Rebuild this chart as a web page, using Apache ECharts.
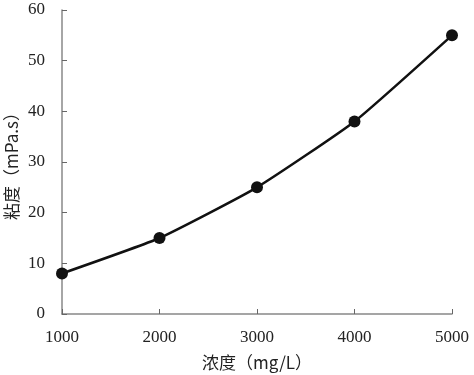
<!DOCTYPE html>
<html>
<head>
<meta charset="utf-8">
<script src="https://cdn.jsdelivr.net/npm/echarts@6/dist/echarts.min.js"></script>
<style>
  html, body { margin: 0; padding: 0; background: #fff; }
  #chart { width: 474px; height: 375px; }
</style>
</head>
<body>
<div id="chart"></div>
<script>
// 浓度 (mg/L) 与 粘度 (mPa.s)
var concentration = [1000, 2000, 3000, 4000, 5000];
var viscosity = [8, 15, 25, 38, 55];

var numFont = "Liberation Serif";
var cjkFont = "Noto Sans CJK SC";

var chart = echarts.init(document.getElementById("chart"));
chart.setOption({
  animation: false,
  grid: { left: 62, right: 22, top: 10, bottom: 61, outerBoundsMode: "none", containLabel: false },
  xAxis: {
    type: "value",
    min: 1000,
    max: 5000,
    interval: 1000,
    name: "浓度（mg/L）",
    nameLocation: "middle",
    nameGap: 40,
    nameMoveOverlap: false,
    nameTextStyle: { color: "#222", fontSize: 17, fontFamily: cjkFont },
    axisLine: { lineStyle: { color: "#888", width: 1.5 } },
    axisTick: { inside: true, length: 5, lineStyle: { color: "#666" } },
    axisLabel: {
      color: "#222", fontSize: 17, fontFamily: numFont, margin: 15,
      formatter: function (v) { return String(v); }
    },
    splitLine: { show: false }
  },
  yAxis: {
    type: "value",
    min: 0,
    max: 60,
    interval: 10,
    name: "粘度（mPa.s）",
    nameLocation: "middle",
    nameGap: 42,
    nameMoveOverlap: false,
    nameTextStyle: { color: "#222", fontSize: 17, fontFamily: cjkFont },
    axisLine: { show: true, lineStyle: { color: "#888", width: 1.5 } },
    axisTick: { show: true, inside: true, length: 5, lineStyle: { color: "#666" } },
    axisLabel: { color: "#222", fontSize: 17, fontFamily: numFont, margin: 17 },
    splitLine: { show: false }
  },
  series: [
    {
      type: "line",
      data: concentration.map(function (c, i) { return [c, viscosity[i]]; }),
      smooth: 0.15,
      symbol: "circle",
      symbolSize: 12,
      lineStyle: { color: "#111", width: 2.5 },
      itemStyle: { color: "#111" }
    }
  ]
});
</script>
</body>
</html>
